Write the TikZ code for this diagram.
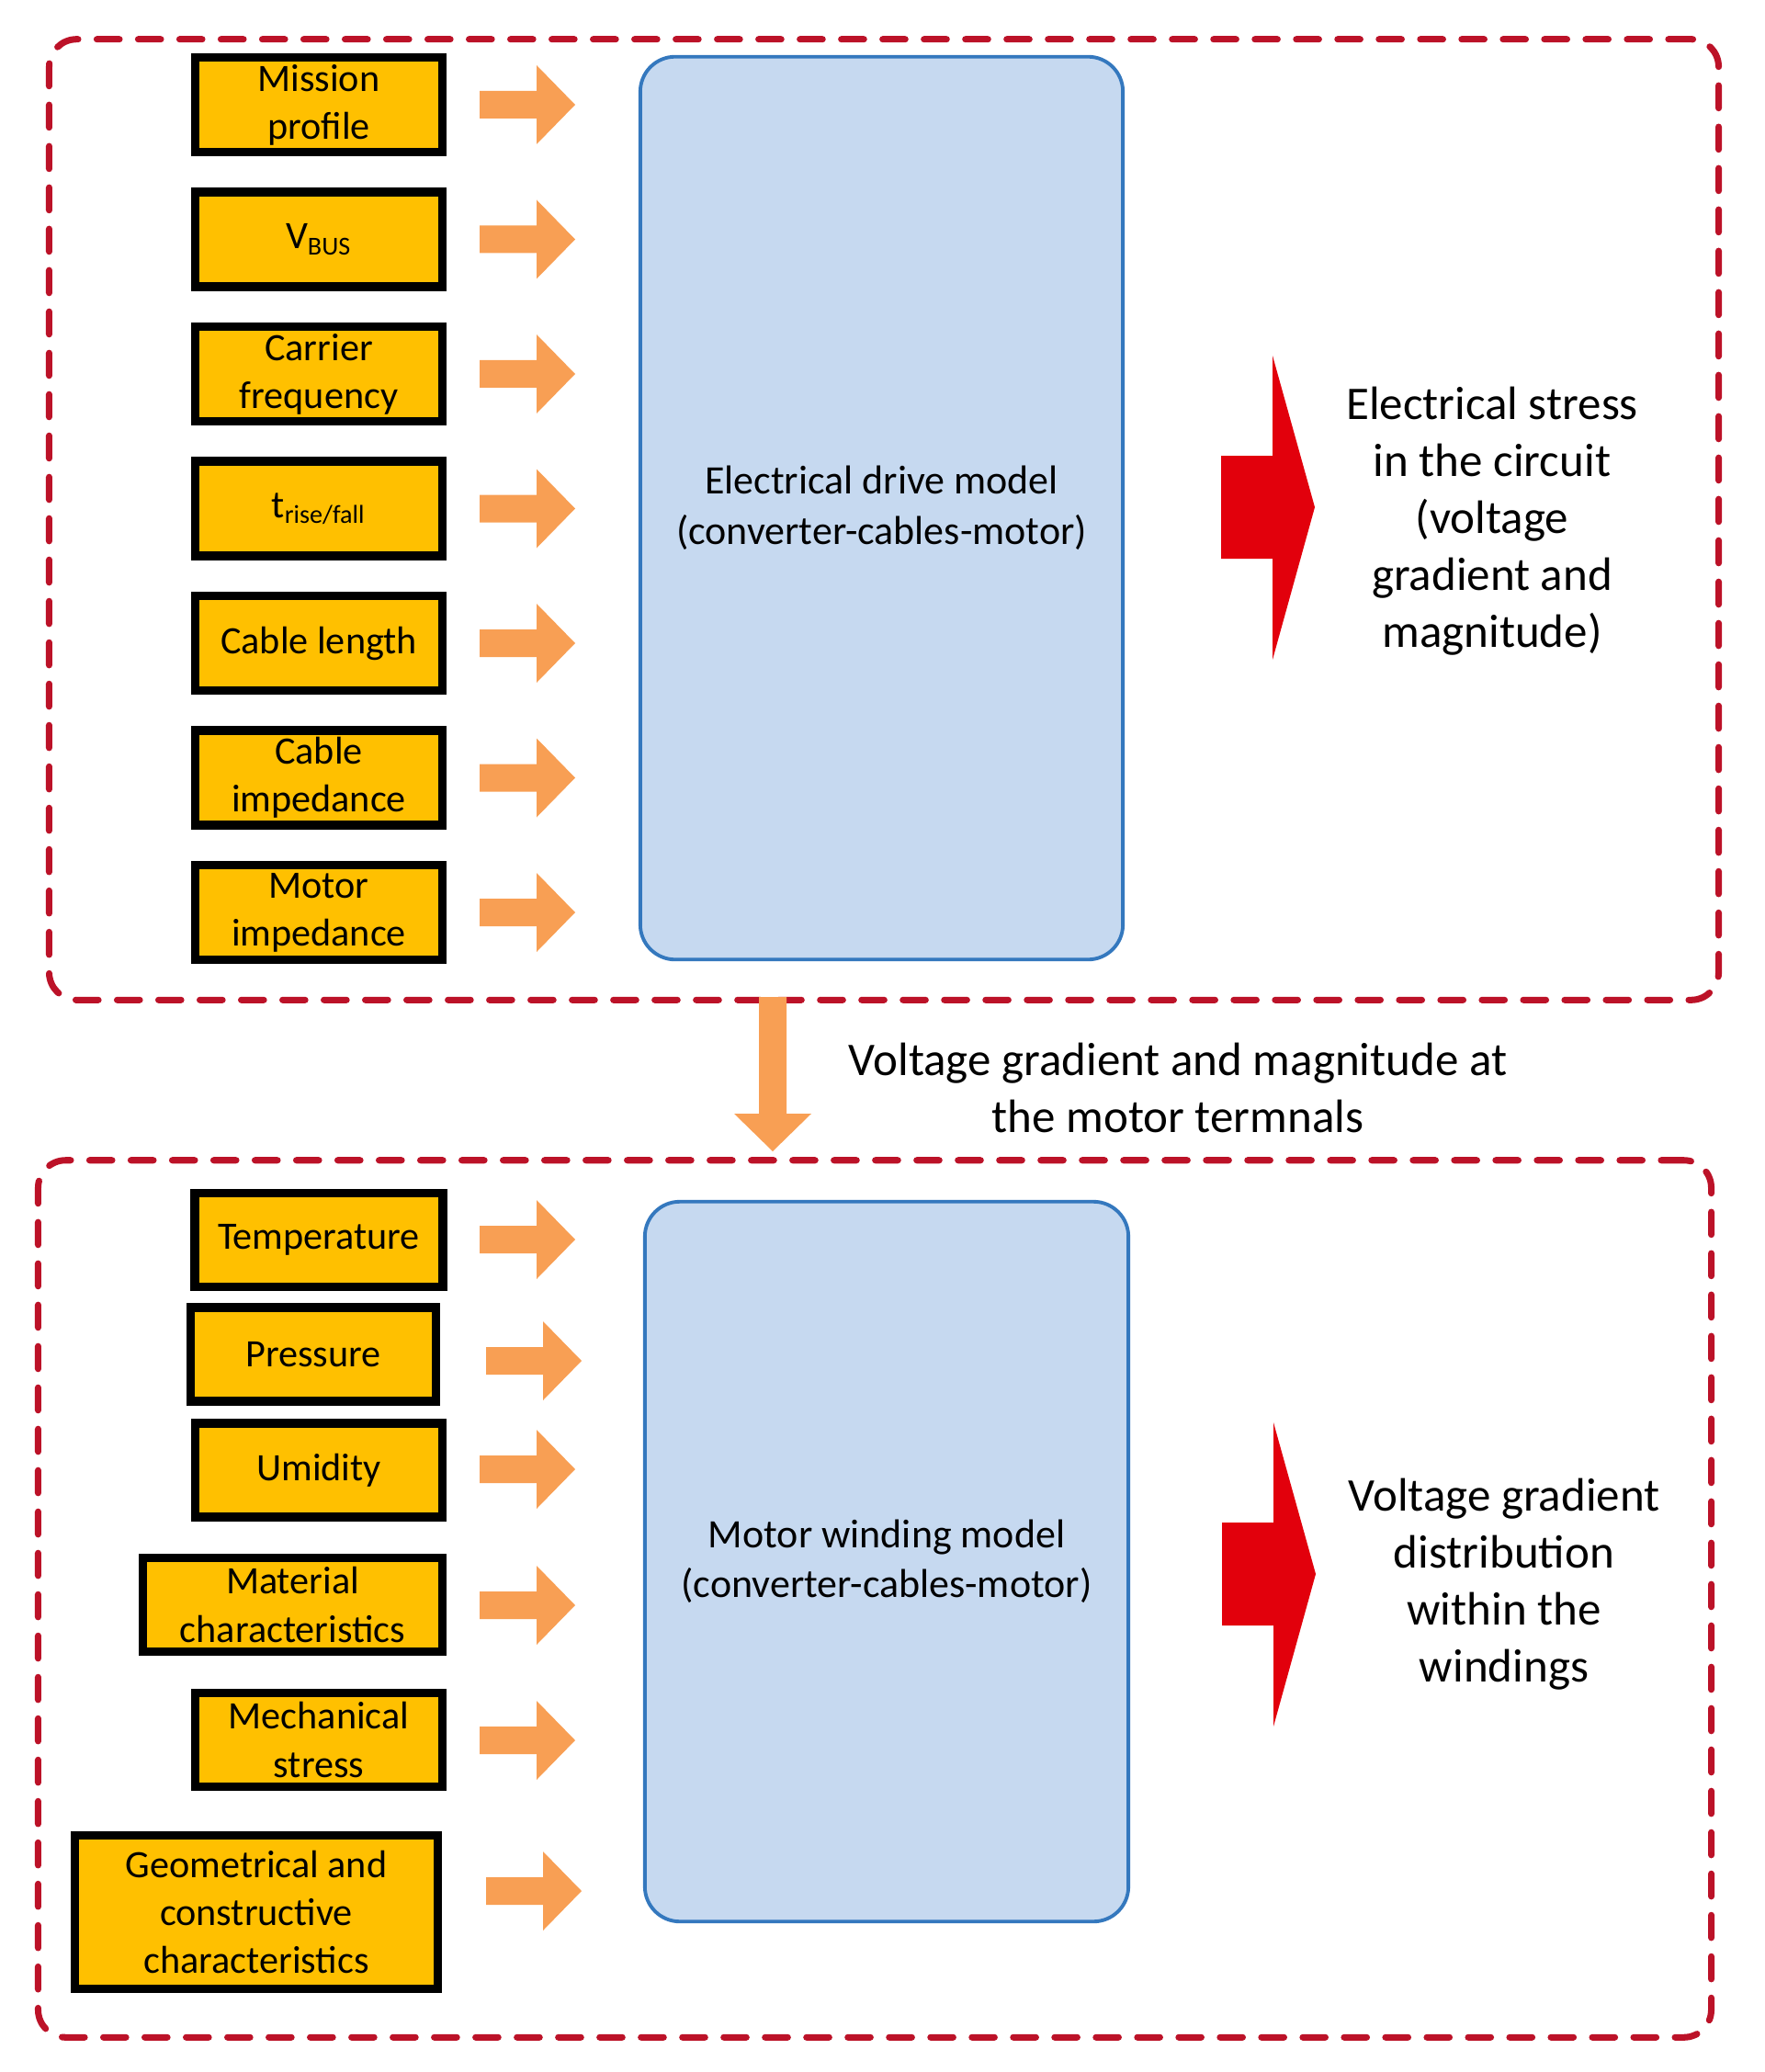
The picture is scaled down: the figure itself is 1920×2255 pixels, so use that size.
\documentclass[tikz,border=0pt]{standalone}
\usepackage{fontspec}
\setmainfont{Carlito}
\definecolor{gold}{RGB}{255,192,0}
\definecolor{orangeA}{RGB}{248,159,84}
\definecolor{bluefill}{RGB}{198,217,240}
\definecolor{blueline}{RGB}{52,120,190}
\definecolor{dashred}{RGB}{188,18,40}
\definecolor{arrowred}{RGB}{226,0,12}
\begin{document}
\begin{tikzpicture}[x=0.01cm,y=-0.01cm,
  panel/.style={draw=dashred, line width=2pt, line cap=round, dash pattern=on 7pt off 5.8pt, rounded corners=0.3cm, inner sep=0pt},
  inbox/.style={draw=black, line width=2.7pt, fill=gold, align=center, inner sep=0pt, font=\fontsize{12}{14.8}\selectfont},
  model/.style={draw=blueline, line width=1.1pt, fill=bluefill, rounded corners=0.38cm, align=center, inner sep=0pt, font=\fontsize{12.5}{15.5}\selectfont},
  outtxt/.style={align=center, inner sep=0pt, font=\fontsize{14.5}{17.6}\selectfont},
  orarrow/.pic={\fill[orangeA] (0,-15) -- (62,-15) -- (62,-43) -- (104,0) -- (62,43) -- (62,15) -- (0,15) -- cycle;},
  redarrow/.pic={\fill[arrowred] (0,-56) -- (56,-56) -- (56,-165) -- (102,0) -- (56,166) -- (56,56) -- (0,56) -- cycle;},
  downarrow/.pic={\fill[orangeA] (-15,0) -- (15,0) -- (15,127) -- (42,127) -- (0,168) -- (-42,127) -- (-15,127) -- cycle;}
]
\useasboundingbox (0,0) rectangle (1920,2255);

% panels
\node[panel, minimum width=18.16cm, minimum height=10.45cm] (toppanel) at (962,565.5) {};
\node[panel, minimum width=18.2cm, minimum height=9.54cm] (botpanel) at (952,1740) {};

% top inputs
\node[inbox, minimum width=2.685cm, minimum height=1.025cm] (mission) at (347,114) {Mission\\profile};
\node[inbox, minimum width=2.685cm, minimum height=1.025cm] (vbus) at (347,260.5) {V\textsubscript{BUS}};
\node[inbox, minimum width=2.685cm, minimum height=1.025cm] (carrier) at (347,407) {Carrier\\frequency};
\node[inbox, minimum width=2.685cm, minimum height=1.025cm] (trise) at (347,553.5) {t\textsubscript{rise/fall}};
\node[inbox, minimum width=2.685cm, minimum height=1.025cm] (clen) at (347,700) {Cable length};
\node[inbox, minimum width=2.685cm, minimum height=1.025cm] (cimp) at (347,846.5) {Cable\\impedance};
\node[inbox, minimum width=2.685cm, minimum height=1.025cm] (mimp) at (347,993) {Motor\\impedance};

\foreach \yy in {114,260.5,407,553.5,700,846.5,993} { \pic at (522,\yy) {orarrow}; }

\node[model, minimum width=5.25cm, minimum height=9.82cm] (drive) at (959.5,553) {Electrical drive model\\(converter-cables-motor)};

\pic at (1329,552) {redarrow};
\node[outtxt] (stress) at (1624,567) {Electrical stress\\in the circuit\\(voltage\\gradient and\\magnitude)};

% link
\pic at (841,1085) {downarrow};
\node[outtxt] (link) at (1282,1184) {Voltage gradient and magnitude at\\the motor termnals};

% bottom inputs
\node[inbox, minimum width=2.695cm, minimum height=1.015cm] (temp) at (347,1349.5) {Temperature};
\node[inbox, minimum width=2.665cm, minimum height=1.015cm] (press) at (341,1474) {Pressure};
\node[inbox, minimum width=2.685cm, minimum height=1.015cm] (umid) at (347,1600) {Umidity};
\node[inbox, minimum width=3.255cm, minimum height=1.015cm] (mat) at (318.5,1746.5) {Material\\characteristics};
\node[inbox, minimum width=2.685cm, minimum height=1.015cm] (mech) at (347,1893.5) {Mechanical\\stress};
\node[inbox, minimum width=3.945cm, minimum height=1.665cm] (geom) at (279,2081) {Geometrical and\\constructive\\characteristics};

\pic at (522,1349) {orarrow};
\pic at (529,1481) {orarrow};
\pic at (522,1599) {orarrow};
\pic at (522,1747) {orarrow};
\pic at (522,1894) {orarrow};
\pic at (529,2058) {orarrow};

\node[model, minimum width=5.26cm, minimum height=7.83cm] (winding) at (965,1699.5) {Motor winding model\\(converter-cables-motor)};

\pic at (1330,1713) {redarrow};
\node[outtxt] (distr) at (1637,1724) {Voltage gradient\\distribution\\within the\\windings};
\end{tikzpicture}
\end{document}
